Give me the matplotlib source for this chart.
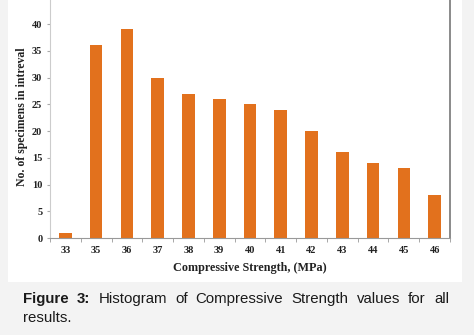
import numpy as np
import matplotlib
matplotlib.use("Agg")
import matplotlib.pyplot as plt
from matplotlib.patches import Rectangle

# data
strength = ["33", "35", "36", "37", "38", "39", "40", "41", "42", "43", "44", "45", "46"]
counts = [1, 36, 39, 30, 27, 26, 25, 24, 20, 16, 14, 13, 8]
yticks = [0, 5, 10, 15, 20, 25, 30, 35, 40]

W, H = 474, 335
fig = plt.figure(figsize=(W / 100, H / 100), dpi=100, facecolor="#f3f3f3")

# white chart panel
fig.patches.append(Rectangle((8 / W, 1 - 282 / H), 454 / W, 282 / H,
                             transform=fig.transFigure, facecolor="white",
                             edgecolor="none", zorder=-5))

ax = fig.add_axes([50 / W, 1 - 238 / H, 400 / W, 238 / H])
ax.set_zorder(2)
ax.set_facecolor("none")
x = np.arange(len(strength))
ax.bar(x, counts, width=0.41, color="#e2711d", zorder=2)

ax.set_xlim(-0.5, len(strength) - 0.5)
ax.set_ylim(0, 44.5)
ax.set_yticks(yticks)
ax.set_xticks(x)
ax.set_xticklabels(strength)
ax.set_xticks(np.arange(-0.5, len(strength), 1.0), minor=True)

serif = {"family": "Liberation Serif", "weight": "bold"}
for lab in ax.get_xticklabels() + ax.get_yticklabels():
    lab.set_fontproperties(matplotlib.font_manager.FontProperties(size=7.5, **serif))
    lab.set_color("#222222")

ax.tick_params(axis="x", which="major", length=0, pad=6)
ax.tick_params(axis="x", which="minor", length=3, direction="out", color="#999999")
ax.tick_params(axis="y", length=2.5, direction="out", color="#aaaaaa", pad=3)

ax.spines["top"].set_visible(False)
ax.spines["left"].set_color("#cccccc")
ax.spines["bottom"].set_color("#999999")
ax.spines["right"].set_color("#8a8a8a")
ax.spines["right"].set_linewidth(1.4)

fig.text(250 / W, 1 - 268 / H, "Compressive Strength, (MPa)", ha="center", va="center",
         fontsize=8.7, color="#222222", **serif)
fig.text(22 / W, 1 - 117 / H, "No. of specimens in intreval", ha="center", va="center",
         rotation=90, fontsize=8.5, color="#222222", **serif)

# justified caption, first line spread across the panel width
fig.canvas.draw()
r = fig.canvas.get_renderer()
words = [("Figure", "bold"), ("3:", "bold"), ("Histogram", "normal"), ("of", "normal"),
         ("Compressive", "normal"), ("Strength", "normal"), ("values", "normal"),
         ("for", "normal"), ("all", "normal")]
left, right = 23, 449
base1, base2 = 1 - 303 / H, 1 - 322 / H
texts = []
for w, wt in words:
    t = fig.text(0, base1, w, fontsize=10.8, family="Liberation Sans", weight=wt,
                 color="#1a1a1a", va="baseline")
    texts.append(t)
widths = [t.get_window_extent(r).width for t in texts]
gap = (right - left - sum(widths)) / (len(words) - 1)
pos = left
for t, wd in zip(texts, widths):
    t.set_x(pos / W)
    pos += wd + gap
fig.text(left / W, base2, "results.", fontsize=10.8, family="Liberation Sans",
         color="#1a1a1a", va="baseline")

fig.savefig("out.png", dpi=100, facecolor=fig.get_facecolor())
